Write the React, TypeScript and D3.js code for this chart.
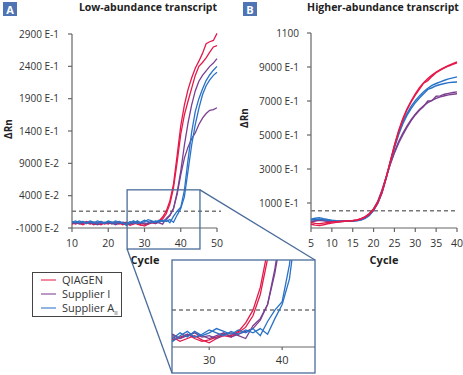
import React from "react";
import * as d3 from "d3";

// ---------- DATA ----------
const cyclesA = d3.range(10, 51);
const cyclesB = d3.range(5, 41);

const qiagenA1 = [-2,-4,-1,-3,0,-2,-5,-3,-1,-4,-2,-3,-1,-4,-2,-5,-3,-1,-4,-6,-5,-3,-1,-2,1,7,16,32,58,102,148,180,204,222,237,248,260,275,278,280,291];
const qiagenA2 = [-4,-2,-3,-5,-2,-4,-1,-3,-5,-2,-4,-1,-3,-2,-5,-3,-6,-4,-2,-5,-7,-4,-2,-3,0,4,12,27,52,92,135,165,186,206,226,240,246,253,262,270,272];
const supplierIA1 = [-1,-3,-2,0,-3,-1,-4,-2,0,-3,-1,-4,-2,0,-3,-1,-4,-2,0,-3,-2,-4,-1,0,-2,-4,5,10,20,45,78,118,152,180,202,217,226,233,240,245,252];
const supplierIA2 = [-3,-1,-4,-2,-1,-3,-2,-5,-3,-1,-3,-2,-5,-3,-1,-2,-4,-1,-3,-2,-4,-2,0,-3,-1,1,3,9,20,42,72,98,115,128,137,150,160,167,172,173,176];
const supplierAA1 = [0,-2,1,-1,-3,0,-2,1,-1,-3,0,-2,1,-1,-3,-4,0,-3,1,-2,0,3,1,-1,2,0,3,-2,8,16,22,48,95,138,170,190,205,218,227,234,240];
const supplierAA2 = [-1,1,-2,0,-2,1,-1,-3,0,-2,1,-1,-3,0,-2,-6,-2,1,-3,-1,2,0,-2,1,-1,2,0,3,-1,10,20,38,78,118,150,175,196,210,219,226,231];

const qiagenB1 = [-25,-30,-33,-28,-22,-18,-14,-10,-8,-6,-4,0,8,20,38,65,105,165,250,345,440,525,595,652,700,742,778,808,832,852,870,885,898,910,920,930];
const qiagenB2 = [-15,-20,-22,-18,-15,-12,-10,-8,-6,-5,-3,0,6,17,34,60,100,160,245,340,435,520,590,648,695,735,770,805,820,845,866,882,895,906,916,925];
const supplierIB1 = [-8,-4,2,-2,-6,-8,-9,-9,-8,-7,-5,-2,4,15,34,62,105,170,250,330,400,460,510,552,590,622,650,672,690,704,715,724,731,736,740,743];
const supplierIB2 = [-12,-6,-2,-5,-8,-9,-10,-9,-8,-7,-5,-1,6,18,37,66,110,175,252,328,395,452,500,545,585,618,645,668,700,702,728,730,740,745,750,754];
const supplierAB1 = [5,10,14,8,3,-1,-4,-5,-6,-6,-5,-3,2,12,30,58,100,162,248,342,432,512,576,626,668,702,730,755,775,792,803,813,822,830,836,842];
const supplierAB2 = [0,4,6,2,-2,-4,-6,-7,-7,-7,-6,-4,0,10,27,55,97,158,242,336,425,502,565,615,655,690,718,742,768,778,790,797,803,808,810,812];

const thresholdA = 16;
const thresholdB = 55;

const yTicksA = [-10, 40, 90, 140, 190, 240, 290];
const yTickLabelsA = ["-1000 E-2", "4000 E-2", "9000 E-2", "1400 E-1", "1900 E-1", "2400 E-1", "2900 E-1"];
const xTicksA = [10, 20, 30, 40, 50];
const yTicksB = [100, 300, 500, 700, 900, 1100];
const yTickLabelsB = ["1000 E-1", "3000 E-1", "5000 E-1", "7000 E-1", "9000 E-1", "1100"];
const xTicksB = [5, 10, 15, 20, 25, 30, 35, 40];
const xTicksInset = [30, 40];

const legendNames = ["QIAGEN", "Supplier I", "Supplier A"];

// ---------- STYLE ----------
const RED = "#e5194a";
const PURPLE = "#7b3f90";
const BLUE = "#2a72c6";
const FRAME = "#4a6c9a";
const AXIS = "#666";
const TXT = "#333";
const FONT = "'Open Sans', 'DejaVu Sans', sans-serif";

const seriesA = [
  { v: qiagenA1, c: RED }, { v: qiagenA2, c: RED },
  { v: supplierIA1, c: PURPLE }, { v: supplierIA2, c: PURPLE },
  { v: supplierAA1, c: BLUE }, { v: supplierAA2, c: BLUE },
];
const seriesB = [
  { v: supplierIB1, c: PURPLE }, { v: supplierIB2, c: PURPLE },
  { v: supplierAB1, c: BLUE }, { v: supplierAB2, c: BLUE },
  { v: qiagenB1, c: RED }, { v: qiagenB2, c: RED },
];

export default function App() {
  const W = 463, H = 375;
  const xA = d3.scaleLinear().domain([10, 50]).range([72, 217]);
  const yA = d3.scaleLinear().domain([-10, 290]).range([228, 34]);
  const xB = d3.scaleLinear().domain([5, 40]).range([311, 457]);
  const yB = d3.scaleLinear().domain([-47, 1100]).range([228, 33]);
  const xI = d3.scaleLinear().domain([24.9, 44.5]).range([172, 315]);
  const yI = d3.scaleLinear().domain([-28.3, 51.3]).range([373, 260]);

  const lineA = d3.line<number>().x((_, i) => xA(cyclesA[i])).y((d) => yA(d));
  const lineB = d3.line<number>().x((_, i) => xB(cyclesB[i])).y((d) => yB(d));
  const lineI = d3.line<number>().x((_, i) => xI(cyclesA[i])).y((d) => yI(d));

  // zoom box in main panel A (data coords)
  const boxX0 = xA(25.2), boxX1 = xA(45.3), boxY0 = yA(49), boxY1 = yA(-42.5);
  const insX0 = 172, insX1 = 315, insY0 = 260, insY1 = 373;

  return (
    <svg width={W} height={H} style={{ display: "block", position: "absolute", left: 0, top: 0 }} fontFamily={FONT}>
      <rect width={W} height={H} fill="#fff" />
      <defs>
        <clipPath id="clipA"><rect x={xA(10)} y={20} width={xA(50) - xA(10) + 4} height={215} /></clipPath>
        <clipPath id="clipI"><rect x={insX0} y={insY0} width={insX1 - insX0} height={insY1 - insY0} /></clipPath>
      </defs>

      {/* Panel letters */}
      <rect x={3} y={2} width={14} height={14} fill="#4f74b3" />
      <text x={10} y={13.5} textAnchor="middle" fill="#fff" fontSize={11} fontWeight="bold">A</text>
      <rect x={243} y={2} width={14} height={14} fill="#4f74b3" />
      <text x={250} y={13.5} textAnchor="middle" fill="#fff" fontSize={11} fontWeight="bold">B</text>

      {/* Titles */}
      <text x={148} y={11} textAnchor="middle" fontSize={10.5} fontWeight="bold" fill="#222">Low-abundance transcript</text>
      <text x={383} y={11} textAnchor="middle" fontSize={10.5} fontWeight="bold" fill="#222">Higher-abundance transcript</text>

      {/* ---------- Panel A ---------- */}
      <line x1={xA(10)} x2={xA(10)} y1={yA(290)} y2={yA(-10)} stroke={AXIS} strokeWidth={1.2} />
      <line x1={xA(10)} x2={xA(50)} y1={yA(-10)} y2={yA(-10)} stroke={AXIS} strokeWidth={1.2} />
      {yTicksA.map((t, i) => (
        <g key={"ya" + t}>
          <line x1={xA(10) - 4} x2={xA(10)} y1={yA(t)} y2={yA(t)} stroke={AXIS} strokeWidth={1.2} />
          <text x={xA(10) - 13} y={yA(t) + 3.5} textAnchor="end" fontSize={10} fill={TXT}>{yTickLabelsA[i]}</text>
        </g>
      ))}
      {xTicksA.map((t) => (
        <g key={"xa" + t}>
          <line x1={xA(t)} x2={xA(t)} y1={yA(-10)} y2={yA(-10) + 4} stroke={AXIS} strokeWidth={1.2} />
          <text x={xA(t)} y={247} textAnchor="middle" fontSize={10.5} fill={TXT}>{t}</text>
        </g>
      ))}
      <text x={145} y={264} textAnchor="middle" fontSize={11} fontWeight="bold" fill="#222">Cycle</text>
      <text transform="translate(12,129) rotate(-90)" textAnchor="middle" fontSize={10} fontWeight="bold" fill="#222">ΔRn</text>
      <line x1={xA(10)} x2={xA(50) + 4} y1={yA(thresholdA)} y2={yA(thresholdA)} stroke="#777" strokeWidth={1.5} strokeDasharray="4,3" />
      <g clipPath="url(#clipA)">
        {seriesA.map((s, i) => (
          <path key={"a" + i} d={lineA(s.v) || ""} fill="none" stroke={s.c} strokeWidth={1.3} />
        ))}
      </g>
      {/* zoom box */}
      <rect x={boxX0} y={boxY0} width={boxX1 - boxX0} height={boxY1 - boxY0} fill="none" stroke={FRAME} strokeWidth={1.3} />
      <line x1={boxX0} y1={boxY1} x2={insX0} y2={insY1} stroke={FRAME} strokeWidth={1.3} />
      <line x1={boxX1} y1={boxY0} x2={insX1} y2={insY0} stroke={FRAME} strokeWidth={1.3} />

      {/* ---------- Inset ---------- */}
      <rect x={insX0} y={insY0} width={insX1 - insX0} height={insY1 - insY0} fill="#fff" stroke="none" />
      <line x1={insX0} x2={insX1} y1={yI(thresholdA)} y2={yI(thresholdA)} stroke="#777" strokeWidth={1.5} strokeDasharray="4,3" />
      <g clipPath="url(#clipI)">
        {seriesA.map((s, i) => (
          <path key={"i" + i} d={lineI(s.v) || ""} fill="none" stroke={s.c} strokeWidth={1.3} />
        ))}
      </g>
      <line x1={insX0} x2={insX1} y1={yI(-10)} y2={yI(-10)} stroke={AXIS} strokeWidth={1.2} />
      {xTicksInset.map((t) => (
        <g key={"xi" + t}>
          <line x1={xI(t)} x2={xI(t)} y1={yI(-10)} y2={yI(-10) + 3} stroke={AXIS} strokeWidth={1.2} />
          <text x={xI(t)} y={yI(-10) + 17} textAnchor="middle" fontSize={11} fill={TXT}>{t}</text>
        </g>
      ))}
      <rect x={insX0} y={insY0} width={insX1 - insX0} height={insY1 - insY0} fill="none" stroke={FRAME} strokeWidth={1.3} />

      {/* ---------- Legend ---------- */}
      <rect x={32.5} y={272.5} width={89} height={44} fill="#fff" stroke="#444" strokeWidth={1} />
      {legendNames.map((n, i) => {
        const y = 280 + i * 14;
        const c = [RED, PURPLE, BLUE][i];
        return (
          <g key={"lg" + n}>
            <line x1={41} x2={56} y1={y} y2={y} stroke={c} strokeWidth={1.3} opacity={0.8} />
            <text x={62} y={y + 4} fontSize={11} fill={TXT}>
              {n}
              {i === 2 ? <tspan fontSize={6} dy={3}>II</tspan> : null}
            </text>
          </g>
        );
      })}

      {/* ---------- Panel B ---------- */}
      <line x1={xB(5)} x2={xB(5)} y1={yB(1100)} y2={yB(-47)} stroke={AXIS} strokeWidth={1.2} />
      <line x1={xB(5)} x2={xB(40)} y1={yB(-47)} y2={yB(-47)} stroke={AXIS} strokeWidth={1.2} />
      {yTicksB.map((t, i) => (
        <g key={"yb" + t}>
          <line x1={xB(5) - 4} x2={xB(5)} y1={yB(t)} y2={yB(t)} stroke={AXIS} strokeWidth={1.2} />
          <text x={xB(5) - 12} y={yB(t) + 3.5} textAnchor="end" fontSize={10} fill={TXT}>{yTickLabelsB[i]}</text>
        </g>
      ))}
      {xTicksB.map((t) => (
        <g key={"xb" + t}>
          <line x1={xB(t)} x2={xB(t)} y1={yB(-47)} y2={yB(-47) + 4} stroke={AXIS} strokeWidth={1.2} />
          <text x={xB(t)} y={247} textAnchor="middle" fontSize={10.5} fill={TXT}>{t}</text>
        </g>
      ))}
      <text x={384} y={264} textAnchor="middle" fontSize={11} fontWeight="bold" fill="#222">Cycle</text>
      <text transform="translate(248,118) rotate(-90)" textAnchor="middle" fontSize={10} fontWeight="bold" fill="#222">ΔRn</text>
      <line x1={xB(5)} x2={xB(40)} y1={yB(thresholdB)} y2={yB(thresholdB)} stroke="#777" strokeWidth={1.5} strokeDasharray="4,3" />
      {seriesB.map((s, i) => (
        <path key={"b" + i} d={lineB(s.v) || ""} fill="none" stroke={s.c} strokeWidth={1.4} />
      ))}
    </svg>
  );
}
